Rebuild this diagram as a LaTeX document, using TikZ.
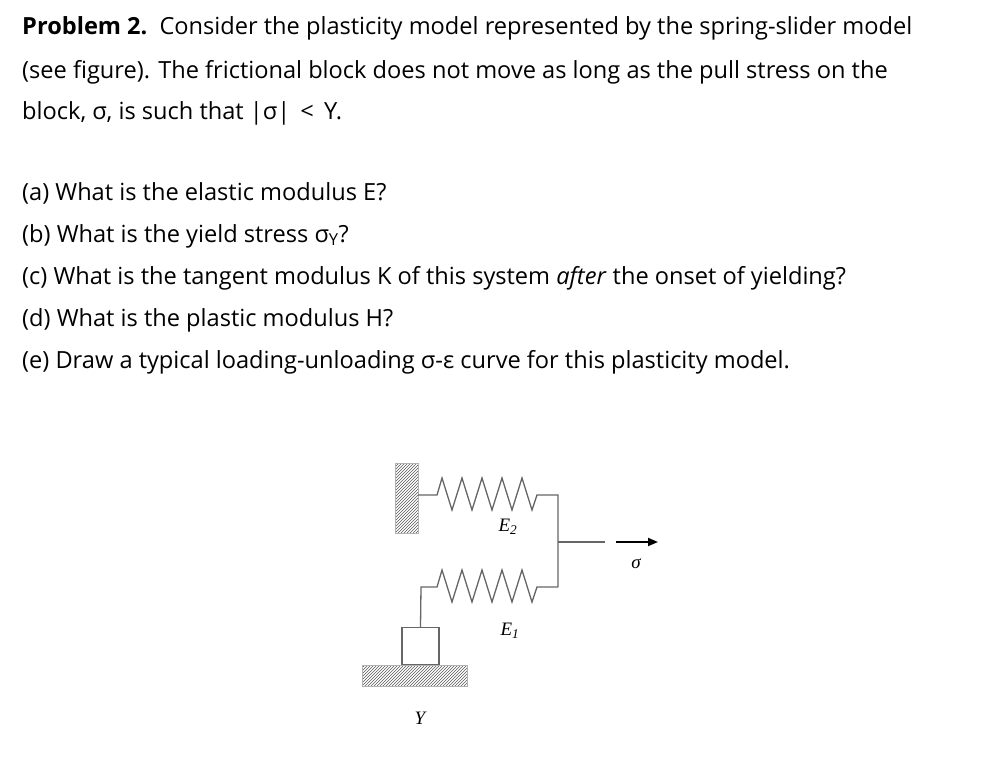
\documentclass[tikz,border=0pt]{standalone}
\usepackage{fontspec}
\setmainfont{Open Sans}
\newfontfamily\figfont{Liberation Serif}
\usetikzlibrary{patterns,arrows.meta}
\begin{document}
\begin{tikzpicture}[x=1pt,y=-1pt,
  txt/.style={anchor=base west,inner sep=0pt,font=\fontsize{23.6}{28}\selectfont},
  lab/.style={inner sep=0pt,font=\figfont\itshape\fontsize{19}{21}\selectfont},
  wire/.style={draw=gray!80!black,line width=1.3pt},
  hatch/.style={pattern=north east lines,pattern color=gray!70!black,draw=gray!60}]
\useasboundingbox (0,0) rectangle (1001,757);
\node[txt] (l1) at (22,35) {\textbf{Problem 2.}\, Consider the plasticity model represented by the spring-slider model};
\node[txt] (l2) at (22,79) {(see figure). The frictional block does not move as long as the pull stress on the};
\node[txt] (l3) at (22,120) {block, σ, is such that |σ| \,<\, Y.};
\node[txt] (a) at (22,200) {(a) What is the elastic modulus E?};
\node[txt] (b) at (22,242) {(b) What is the yield stress σ\textsubscript{Y}?};
\node[txt] (c) at (22,284) {(c) What is the tangent modulus K of this system \textit{after} the onset of yielding?};
\node[txt] (d) at (22,326) {(d) What is the plastic modulus H?};
\node[txt] (e) at (22,368) {(e) Draw a typical loading-unloading σ-ε curve for this plasticity model.};
% wall
\fill[hatch] (395,463) rectangle (418,533);
% ground
\fill[hatch] (362,665) rectangle (467,686);
% block
\node[draw=gray!80!black,line width=1.3pt,minimum width=37pt,minimum height=37pt,inner sep=0pt] (blk) at (420.5,646) {};
\coordinate (w) at (418,495);
\coordinate (j1) at (558,495);
\coordinate (j2) at (558,587);
\coordinate (m) at (558,542);
\coordinate (me) at (605,542);
\draw[wire] (w) -- (437,495) -- (442,478) -- (452,510) -- (462,478) -- (472,510) -- (482,478) -- (492,510) -- (502,478) -- (512,510) -- (522,478) -- (532,510) -- (537,495) -- (j1) -- (j2);
\draw[wire] (blk.north) -- (421,587) -- (437,587) -- (442,570) -- (452,602) -- (462,570) -- (472,602) -- (482,570) -- (492,602) -- (502,570) -- (512,602) -- (522,570) -- (532,602) -- (537,587) -- (j2);
\draw[wire] (m) -- (me);
\coordinate (as) at (616,542);
\coordinate (ae) at (658,542);
\draw[line width=1.8pt,-{Triangle[length=10pt,width=8pt]}] (as) -- (ae);
\node[lab] (sig) at (636,564) {σ};
\node[lab] (E2) at (508,527) {E\textsubscript{2}};
\node[lab] (E1) at (510,631) {E\textsubscript{1}};
\node[lab] (Y) at (420,718) {Y};
\end{tikzpicture}
\end{document}
